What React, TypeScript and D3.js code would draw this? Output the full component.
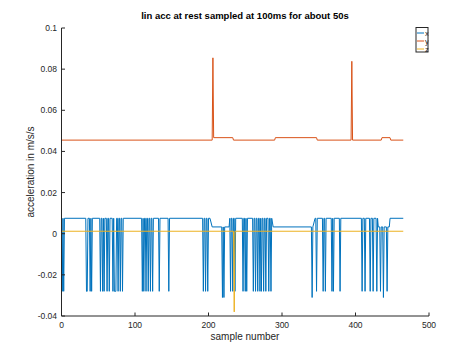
import React from "react";
import * as d3 from "d3";

// sample index, value (vertices of the polyline; flat runs between)
const B = 0.0075, L = -0.028, D = -0.031, b = 0.0033;
const accX: [number, number][] = [
  [0,B],[1,L],[2,B],[3,L],[4,B],
  [33,B],[34,L],[35,L],[36,B],[38,B],[39,L],[40,B],[41,L],[42,B],
  [52,B],[53,L],[54,B],[55,B],[56,L],[57,B],[58,L],[59,B],[61,B],[62,L],[63,B],[64,B],[65,L],[66,B],[69,B],[70,L],[71,B],[72,L],[73,L],[74,L],[75,B],[76,B],[77,L],[78,B],[79,B],[80,L],[81,B],[82,B],[83,L],[84,B],
  [109,B],[110,L],[111,B],[112,L],[113,B],[114,B],[115,L],[116,B],[117,B],[118,L],[119,B],[120,B],[121,L],[122,B],[123,B],[124,L],[125,B],[132,B],[133,L],[134,B],[145,B],[146,L],[147,B],
  [192,B],[193,L],[194,B],[195,B],[196,L],[197,B],[198,B],[199,L],[200,B],[202,B],[205,b],
  [218,b],[219,D],[220,b],[221,D],[222,b],
  [228,b],[229,B],[230,L],[231,B],[232,B],[233,L],[234,B],[235,B],[236,L],[237,B],
  [246,B],[247,L],[248,B],[249,B],[250,L],[251,B],[252,L],[253,B],
  [260,B],[261,L],[262,B],[263,B],[264,L],[265,B],[266,B],[267,L],[268,B],[269,B],[270,L],[271,B],[272,L],[273,B],
  [274,B],[275,L],[276,B],[277,B],[278,L],[279,B],[281,B],[282,L],[283,B],[284,B],[285,L],[286,B],[288,b],
  [340,b],[341,D],[342,b],[345,B],[346,B],[347,L],[348,B],[355,B],[356,L],[357,B],[358,B],[359,L],[360,B],[367,B],[368,L],[369,B],[370,L],[371,B],[378,B],[379,L],[380,B],
  [408,B],[409,L],[410,B],[412,B],[413,L],[414,B],[419,B],[420,L],[421,B],[423,B],[424,L],[425,B],[428,B],[429,L],[430,B],[431,b],[433,b],[434,L],[435,b],[437,b],[438,D],[439,b],[442,b],[443,L],[444,b],[446,b],[447,B],[465,B],
];
const R = 0.0455, Rs = 0.0467;
const accY: [number, number][] = [
  [0,R],[205,R],[206,0.0855],[207,Rs],[233,Rs],[234,R],[290,R],[291,Rs],[347,Rs],[348,R],
  [394,R],[395,0.0838],[396,R],[435,R],[436,Rs],[447,Rs],[448,R],[465,R],
];
const Y = 0.0012;
const accZ: [number, number][] = [[0,Y],[234,Y],[235,-0.038],[236,Y],[465,Y]];

const xTicks = [0, 100, 200, 300, 400, 500];
const yTicks = [-0.04, -0.02, 0, 0.02, 0.04, 0.06, 0.08, 0.1];
const yTickLabels = ["-0.04", "-0.02", "0", "0.02", "0.04", "0.06", "0.08", "0.1"];
const seriesNames = ["x", "y", "z"];
const colors = ["#0072BD", "#D95319", "#EDB120"];

export default function App() {
  const W = 474, H = 355;
  const x = d3.scaleLinear().domain([0, 500]).range([61.5, 429]);
  const y = d3.scaleLinear().domain([-0.04, 0.1]).range([316, 28]);
  const line = d3.line<[number, number]>().x(d => x(d[0])).y(d => y(d[1]));
  const series = [accX, accY, accZ];
  const axisColor = "#262626";
  const font = "'Liberation Sans', Arial, sans-serif";
  return (
    <svg width={W} height={H} style={{ position: "absolute", left: 0, top: 0, background: "#fff" }} fontFamily={font}>
      <defs>
        <clipPath id="legclip"><rect x={416} y={27} width={12.5} height={26} /></clipPath>
      </defs>
      <rect width={W} height={H} fill="#fff" />
      {series.map((s, k) => (
        <path key={k} d={line(s) || ""} fill="none" stroke={colors[k]} strokeWidth={1} strokeLinejoin="round" />
      ))}
      {/* axes */}
      <line x1={x(0)} x2={x(500)} y1={316} y2={316} stroke={axisColor} strokeWidth={1} />
      <line x1={61.5} x2={61.5} y1={28} y2={316} stroke={axisColor} strokeWidth={1} />
      {xTicks.map(t => (
        <g key={t}>
          <line x1={x(t)} x2={x(t)} y1={316} y2={312.5} stroke={axisColor} />
          <text x={x(t)} y={328} fontSize={8.5} textAnchor="middle" fill={axisColor}>{t}</text>
        </g>
      ))}
      {yTicks.map((t, i) => (
        <g key={t}>
          <line x1={61.5} x2={65} y1={y(t)} y2={y(t)} stroke={axisColor} />
          <text x={57} y={y(t) + 3} fontSize={8.5} textAnchor="end" fill={axisColor}>{yTickLabels[i]}</text>
        </g>
      ))}
      <text x={245} y={19} fontSize={9.5} fontWeight="bold" textAnchor="middle" fill="#000">lin acc at rest sampled at 100ms for about 50s</text>
      <text x={245} y={340} fontSize={10} textAnchor="middle" fill={axisColor}>sample number</text>
      <text transform="translate(34,172) rotate(-90)" fontSize={10} textAnchor="middle" fill={axisColor}>acceleration in m/s/s</text>
      {/* legend */}
      <rect x={416} y={27.5} width={12} height={24.5} fill="#fff" stroke={axisColor} strokeWidth={1} />
      <g clipPath="url(#legclip)">
        {seriesNames.map((n, k) => (
          <g key={n}>
            <line x1={417} x2={424} y1={33 + k * 8} y2={33 + k * 8} stroke={colors[k]} strokeWidth={1} />
            <text x={425} y={36 + k * 8} fontSize={8} fill={axisColor}>{n}</text>
          </g>
        ))}
      </g>
    </svg>
  );
}
